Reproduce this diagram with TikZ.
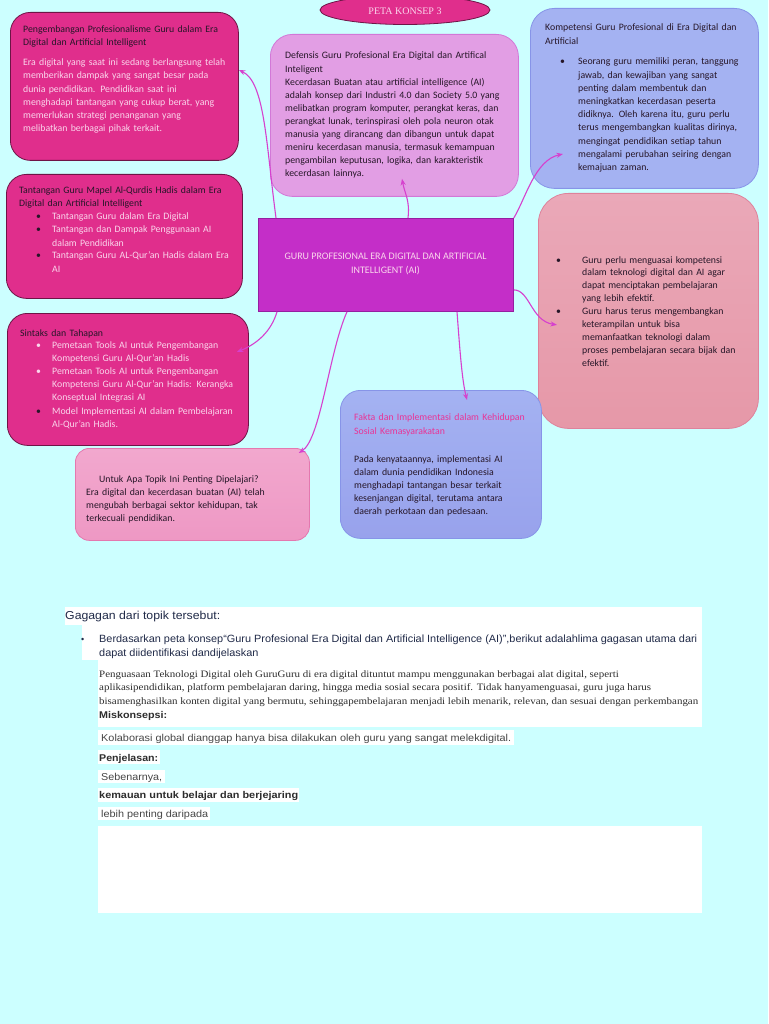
\documentclass[tikz,border=0pt]{standalone}
\usepackage{fontspec}
\usepackage{graphicx}
\setmainfont{Carlito}
\newfontfamily\lsans{Liberation Sans}
\newfontfamily\lserif{Liberation Serif}
\usetikzlibrary{arrows.meta,shapes.geometric,calc}
\definecolor{bgc}{RGB}{204,255,255}
\definecolor{mag}{RGB}{224,46,140}
\definecolor{magd}{RGB}{110,20,70}
\definecolor{orch}{RGB}{226,158,228}
\definecolor{orchd}{RGB}{210,120,215}
\definecolor{peri}{RGB}{164,178,242}
\definecolor{perib}{RGB}{152,162,236}
\definecolor{perid}{RGB}{135,148,232}
\definecolor{ctrf}{RGB}{196,46,200}
\definecolor{ctrd}{RGB}{150,30,160}
\definecolor{pinkt}{RGB}{234,168,184}
\definecolor{pinkb}{RGB}{230,152,168}
\definecolor{pinkd}{RGB}{222,130,155}
\definecolor{untt}{RGB}{242,168,206}
\definecolor{untb}{RGB}{238,152,196}
\definecolor{untd}{RGB}{228,120,175}
\definecolor{connc}{RGB}{214,64,206}
\definecolor{lighttxt}{RGB}{250,214,236}
\definecolor{darktxt}{RGB}{38,22,40}
\definecolor{faktat}{RGB}{232,52,150}
\definecolor{navy}{RGB}{32,42,72}
\definecolor{gr}{RGB}{45,45,45}
\definecolor{grl}{RGB}{70,70,70}
\newcommand\bul[1]{\makebox[#1][l]{\textbullet}}
\newcommand\ind[1]{\hspace*{#1}}
\tikzset{
  box/.style={draw, line width=0.8pt, anchor=north west, inner sep=0},
  magbox/.style={box, fill=mag, draw=magd, rounded corners=20pt},
  txt/.style={inner sep=0, anchor=base west, align=left, text width=300pt,
    font=\fontsize{9.8}{13.3}\selectfont},
  conn/.style={draw=connc, line width=1.1pt, -{Stealth[length=6.5pt,width=5pt]}},
  btxt/.style={inner sep=0, anchor=base west}
}
\begin{document}
\begin{tikzpicture}[x=1pt,y=-1pt]
\useasboundingbox (0,0) rectangle (768,1024);
\fill[bgc] (0,0) rectangle (768,1024);

% ---------- boxes ----------
\node[magbox, minimum width=228pt, minimum height=148pt] (tl) at (10,12) {};
\node[ellipse, draw=magd, fill=mag, line width=0.8pt, minimum width=170pt, minimum height=29pt, inner sep=0] (peta) at (405,10) {};
\node[box, fill=orch, draw=orchd, rounded corners=22pt, minimum width=248pt, minimum height=162pt] (defn) at (270,34) {};
\node[box, fill=peri, draw=perid, rounded corners=24pt, minimum width=228pt, minimum height=180pt] (komp) at (530,8) {};
\node[magbox, minimum width=236pt, minimum height=124pt] (tant) at (6,174) {};
\node[box, fill=ctrf, draw=ctrd, minimum width=255pt, minimum height=93pt] (ctr) at (258,218) {};
\node[box, top color=pinkt, bottom color=pinkb, draw=pinkd, rounded corners=30pt, minimum width=220pt, minimum height=235pt] (pink) at (538,193) {};
\node[magbox, minimum width=241pt, minimum height=132pt] (sint) at (7,313) {};
\node[box, top color=untt, bottom color=untb, draw=untd, rounded corners=14pt, minimum width=234pt, minimum height=92pt] (untuk) at (75,448) {};
\node[box, top color=peri, bottom color=perib, draw=perid, rounded corners=20pt, minimum width=201pt, minimum height=148pt] (fakta) at (340,390) {};

% ---------- connectors ----------
\draw[conn] ($(ctr.north west)+(18,0)$) .. controls +(-10,-75) and +(26,12) .. ($(tl.north east)+(0,58)$);
\draw[conn] ($(ctr.north west)+(150,0)$) .. controls +(2,-18) and +(3,16) .. ($(defn.south west)+(132,-18)$);
\draw[conn] (ctr.north east) .. controls +(12,-20) and +(-28,6) .. ($(komp.north west)+(33,146)$);
\draw[conn] ($(ctr.east)+(0,25)$) .. controls +(16,0) and +(-26,-4) .. ($(pink.west)+(19,14)$);
\draw[conn] ($(ctr.south west)+(19,0)$) .. controls +(-6,20) and +(20,-8) .. ($(sint.north east)+(-12,39)$);
\draw[conn] ($(ctr.south west)+(89,0)$) .. controls +(-18,40) and +(22,-14) .. ($(untuk.north east)+(-11,5)$);
\draw[conn] ($(ctr.south west)+(199,0)$) .. controls +(3,40) and +(-5,-20) .. ($(fakta.north west)+(127,10)$);

% ---------- texts in boxes ----------
\node[inner sep=0, text=lighttxt, font=\lserif\fontsize{10}{11}\selectfont] (petat) at (405,11) {PETA KONSEP 3};

\node[txt, text=darktxt] (tlt) at (23,32.5) {Pengembangan Profesionalisme Guru dalam Era\\Digital dan Artificial Intelligent};
\node[txt, text=lighttxt] (tlb) at (23,65.5) {Era digital yang saat ini sedang berlangsung telah\\memberikan dampak yang sangat besar pada\\dunia pendidikan. Pendidikan saat ini\\menghadapi tantangan yang cukup berat, yang\\memerlukan strategi penanganan yang\\melibatkan berbagai pihak terkait.};

\node[txt, text=darktxt, font=\fontsize{9.8}{13.1}\selectfont] (deft) at (285,59) {Defensis Guru Profesional Era Digital dan Artifical\\Inteligent\\Kecerdasan Buatan atau artificial intelligence (AI)\\adalah konsep dari Industri 4.0 dan Society 5.0 yang\\melibatkan program komputer, perangkat keras, dan\\perangkat lunak, terinspirasi oleh pola neuron otak\\manusia yang dirancang dan dibangun untuk dapat\\meniru kecerdasan manusia, termasuk kemampuan\\pengambilan keputusan, logika, dan karakteristik\\kecerdasan lainnya.};

\node[txt, text=darktxt] (kompt) at (545,31) {Kompetensi Guru Profesional di Era Digital dan\\Artificial};
\node[txt, text=darktxt, font=\fontsize{9.8}{13.2}\selectfont] (kompb) at (560,65) {\bul{18pt}Seorang guru memiliki peran, tanggung\\\ind{18pt}jawab, dan kewajiban yang sangat\\\ind{18pt}penting dalam membentuk dan\\\ind{18pt}meningkatkan kecerdasan peserta\\\ind{18pt}didiknya. Oleh karena itu, guru perlu\\\ind{18pt}terus mengembangkan kualitas dirinya,\\\ind{18pt}mengingat pendidikan setiap tahun\\\ind{18pt}mengalami perubahan seiring dengan\\\ind{18pt}kemajuan zaman.};

\node[txt, text=darktxt, font=\fontsize{9.8}{13}\selectfont] (tantt) at (19,194) {Tantangan Guru Mapel Al-Qurdis Hadis dalam Era\\Digital dan Artificial Intelligent};
\node[txt, text=lighttxt, font=\fontsize{9.8}{13}\selectfont] (tantb) at (36,220) {\textcolor{darktxt}{\bul{16pt}}Tantangan Guru dalam Era Digital\\\textcolor{darktxt}{\bul{16pt}}Tantangan dan Dampak Penggunaan AI\\\ind{16pt}dalam Pendidikan\\\textcolor{darktxt}{\bul{16pt}}Tantangan Guru AL-Qur’an Hadis dalam Era\\\ind{16pt}AI};

\node[inner sep=0, align=center, text=lighttxt, font=\fontsize{10}{13.4}\selectfont] (ctrt) at (385.5,264) {GURU PROFESIONAL ERA DIGITAL DAN ARTIFICIAL\\INTELLIGENT (AI)};

\node[txt, text=darktxt, font=\fontsize{9.8}{13.1}\selectfont] (sintt) at (20,336) {Sintaks dan Tahapan};
\node[txt, text=lighttxt, font=\fontsize{9.8}{13.1}\selectfont] (sintb) at (36,348.5) {\bul{16pt}Pemetaan Tools AI untuk Pengembangan\\\ind{16pt}Kompetensi Guru Al-Qur’an Hadis\\\bul{16pt}Pemetaan Tools AI untuk Pengembangan\\\ind{16pt}Kompetensi Guru Al-Qur’an Hadis: Kerangka\\\ind{16pt}Konseptual Integrasi AI\\\textcolor{darktxt}{\bul{16pt}}Model Implementasi AI dalam Pembelajaran\\\ind{16pt}Al-Qur’an Hadis.};

\node[txt, text=darktxt, font=\fontsize{9.8}{12.9}\selectfont] (pinkb) at (556,263) {\bul{26pt}Guru perlu menguasai kompetensi\\\ind{26pt}dalam teknologi digital dan AI agar\\\ind{26pt}dapat menciptakan pembelajaran\\\ind{26pt}yang lebih efektif.\\\bul{26pt}Guru harus terus mengembangkan\\\ind{26pt}keterampilan untuk bisa\\\ind{26pt}memanfaatkan teknologi dalam\\\ind{26pt}proses pembelajaran secara bijak dan\\\ind{26pt}efektif.};

\node[txt, text=darktxt, font=\fontsize{9.8}{13.3}\selectfont] (untukt) at (86,482) {\ind{13pt}Untuk Apa Topik Ini Penting Dipelajari?\\Era digital dan kecerdasan buatan (AI) telah\\mengubah berbagai sektor kehidupan, tak\\terkecuali pendidikan.};

\node[txt, text=faktat, font=\fontsize{9.8}{14.5}\selectfont] (faktt) at (354,420) {Fakta dan Implementasi dalam Kehidupan\\Sosial Kemasyarakatan};
\node[txt, text=darktxt, font=\fontsize{9.8}{13.1}\selectfont] (faktb) at (354,462) {Pada kenyataannya, implementasi AI\\dalam dunia pendidikan Indonesia\\menghadapi tantangan besar terkait\\kesenjangan digital, terutama antara\\daerah perkotaan dan pedesaan.};

% ---------- lower text area ----------
\fill[white] (65,607) rectangle (702,625);
\fill[white] (82,625) rectangle (702,660);
\fill[white] (98,660) rectangle (702,727);
\fill[white] (98,730) rectangle (514,745);
\fill[white] (98,750) rectangle (160,764);
\fill[white] (98,770) rectangle (165,783);
\fill[white] (98,788) rectangle (299,802);
\fill[white] (98,807) rectangle (210,820);
\fill[white] (98,826) rectangle (702,913);

\node[btxt, text=navy, font=\lsans\fontsize{11.5}{13}\selectfont] (gag) at (65,619) {\resizebox{155pt}{\height}{Gagagan dari topik tersebut:}};
\node[btxt, text=navy, font=\lsans\fontsize{9}{13}\selectfont] (bdot) at (81,642) {\textbullet};
\node[btxt, text=navy, font=\lsans\fontsize{10.5}{14}\selectfont] (bulg) at (99,642) {\resizebox{598pt}{\height}{\begin{tabular}[t]{@{}l@{}}Berdasarkan peta konsep“Guru Profesional Era Digital dan Artificial Intelligence (AI)”,berikut adalahlima gagasan utama dari\\dapat diidentifikasi dandijelaskan\end{tabular}}};
\node[btxt, text=gr, font=\lserif\fontsize{9.8}{13.5}\selectfont] (peng) at (99,677) {\resizebox{599pt}{\height}{\begin{tabular}[t]{@{}l@{}}Penguasaan Teknologi Digital oleh GuruGuru di era digital dituntut mampu menggunakan berbagai alat digital, seperti\\aplikasipendidikan, platform pembelajaran daring, hingga media sosial secara positif. Tidak hanyamenguasai, guru juga harus\\bisamenghasilkan konten digital yang bermutu, sehinggapembelajaran menjadi lebih menarik, relevan, dan sesuai dengan perkembangan\end{tabular}}};
\node[btxt, text=gr, font=\lsans\bfseries\fontsize{9.8}{12}\selectfont] (misk) at (99,718) {\resizebox{68pt}{\height}{Miskonsepsi:}};
\node[btxt, text=grl, font=\lsans\fontsize{10}{12}\selectfont] (kolab) at (101,741) {\resizebox{410pt}{\height}{Kolaborasi global dianggap hanya bisa dilakukan oleh guru yang sangat melekdigital.}};
\node[btxt, text=gr, font=\lsans\bfseries\fontsize{9.8}{12}\selectfont] (penj) at (99,761) {\resizebox{59pt}{\height}{Penjelasan:}};
\node[btxt, text=grl, font=\lsans\fontsize{10}{12}\selectfont] (seben) at (101,780) {\resizebox{61pt}{\height}{Sebenarnya,}};
\node[btxt, text=gr, font=\lsans\bfseries\fontsize{9.8}{12}\selectfont] (kemau) at (99,798) {\resizebox{199pt}{\height}{kemauan untuk belajar dan berjejaring}};
\node[btxt, text=grl, font=\lsans\fontsize{10}{12}\selectfont] (lebih) at (101,817) {\resizebox{107pt}{\height}{lebih penting daripada}};
\end{tikzpicture}
\end{document}
